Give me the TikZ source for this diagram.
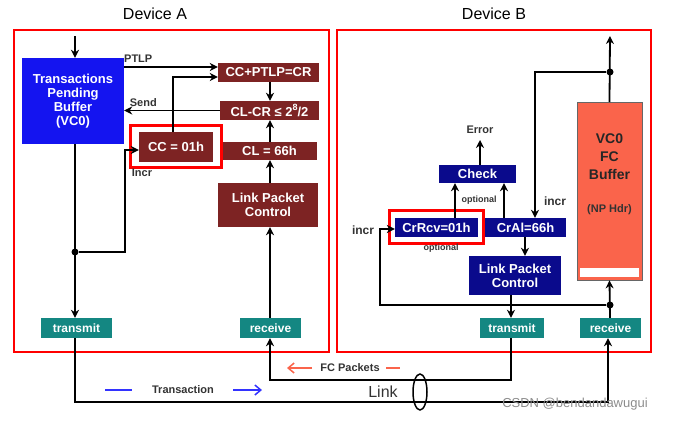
\documentclass[tikz,border=0pt]{standalone}
\usepackage{fontspec}
\setmainfont{Liberation Sans}
\usetikzlibrary{arrows.meta}
\definecolor{tpblue}{RGB}{20,20,240}
\definecolor{dred}{RGB}{125,35,35}
\definecolor{navy}{RGB}{10,10,140}
\definecolor{teal2}{RGB}{20,135,130}
\definecolor{fcor}{RGB}{250,100,75}
\begin{document}
\begin{tikzpicture}[x=1pt,y=-1pt,
  box/.style={draw=none, text=white, font=\bfseries\fontsize{13}{14}\selectfont, align=center, inner sep=0pt},
  lab/.style={font=\bfseries\fontsize{11}{12}\selectfont, text=black!80},
  ln/.style={line width=1.8pt},
  ar/.style={ln, -{Stealth[length=8pt,width=8pt]}},
  dot/.style={circle, fill=black, inner sep=0pt, minimum size=7pt},
  hl/.style={draw=red, line width=3pt, fill=none}]
\useasboundingbox (0,0) rectangle (683,423);
% titles and device frames
\node[font=\fontsize{16}{18}\selectfont] (ta) at (155,14) {Device A};
\node[font=\fontsize{16}{18}\selectfont] (tb) at (494,14) {Device B};
\draw[red, line width=2pt] (14,30) rectangle (329,352);
\draw[red, line width=2pt] (337,30) rectangle (651,352);

% Device A
\node[box, fill=tpblue, minimum width=102pt, minimum height=86pt] (tpb) at (73,101) {Transactions\\Pending\\Buffer\\(VC0)};
\node[box, fill=dred, minimum width=101pt, minimum height=19pt] (ccr) at (268.5,72.5) {CC+PTLP=CR};
\node[box, fill=dred, minimum width=99pt, minimum height=19pt] (clcr) at (269.5,110.5) {CL-CR ≤ 2\raisebox{0.8ex}{\fontsize{9}{9}\selectfont 8}/2};
\node[box, fill=dred, minimum width=74pt, minimum height=30pt] (cc) at (176,147) {CC = 01h};
\node[box, fill=dred, minimum width=95pt, minimum height=18pt] (cl) at (269.5,151) {CL = 66h};
\node[box, fill=dred, minimum width=100pt, minimum height=44pt] (lpa) at (268,205) {Link Packet\\Control};
\node[box, fill=teal2, minimum width=71pt, minimum height=20pt, font=\bfseries\fontsize{12}{13}\selectfont] (txa) at (76.5,328) {transmit};
\node[box, fill=teal2, minimum width=61pt, minimum height=20pt, font=\bfseries\fontsize{12}{13}\selectfont] (rxa) at (270.5,328) {receive};
\draw[hl] (130,125) rectangle (221,167);
\coordinate (ina) at (75,36);
\draw[ar] (ina) -- (tpb.north -| ina);
\draw[ar] (tpb.east |- 0,67) -- node[lab, above, pos=0.15] {PTLP} (ccr.west |- 0,67);
\draw[ar] (cc.north -| 173,0) -- (173,77) -- (ccr.west |- 0,77);
\draw[ar] (clcr.west) -- node[lab, above, pos=0.8] {Send} (tpb.east |- clcr.west);
\draw[ar] (ccr.south -| 270,0) -- (clcr.north -| 270,0);
\draw[ar] (cl.north -| 270,0) -- (clcr.south -| 270,0);
\draw[ar] (lpa.north -| 270,0) -- (cl.south -| 270,0);
\draw[ar] (rxa.north -| 270,0) -- (lpa.south -| 270,0);
\node[dot] (da) at (75,252) {};
\draw[ar] (tpb.south -| 75,0) -- (txa.north -| 75,0);
\draw[ar] (da) -- (125,252) -- (125,150) -- (cc.west |- 0,150);
\node[lab] (incra) at (142,173) {Incr};

% Device B
\node[box, fill=navy, minimum width=77pt, minimum height=18pt] (chk) at (477.5,174) {Check};
\node[box, fill=navy, minimum width=83pt, minimum height=19pt] (crr) at (436.5,227.5) {CrRcv=01h};
\node[box, fill=navy, minimum width=81pt, minimum height=19pt] (cra) at (525.5,227.5) {CrAl=66h};
\node[box, fill=navy, minimum width=92pt, minimum height=39pt] (lpb) at (515,275.5) {Link Packet\\Control};
\node[box, fill=fcor, draw=black!60, minimum width=65pt, minimum height=178pt, anchor=north] (buf) at (609.5,102) {};
\fill[white] (580,268) rectangle (639,277);
\node[text=black!85, font=\bfseries\fontsize{14}{18}\selectfont, align=center] (buft) at (609.5,157) {VC0\\FC\\Buffer};
\node[lab] (nph) at (609.5,210) {(NP Hdr)};
\node[box, fill=teal2, minimum width=64pt, minimum height=20pt, font=\bfseries\fontsize{12}{13}\selectfont] (txb) at (512,328) {transmit};
\node[box, fill=teal2, minimum width=61pt, minimum height=20pt, font=\bfseries\fontsize{12}{13}\selectfont] (rxb) at (610.5,328) {receive};
\draw[hl] (389,210) rectangle (483,243);
\node[lab] (err) at (480,130) {Error};
\draw[ar] (chk.north -| 480,0) -- (480,140);
\draw[ar] (crr.north -| 455,0) -- (chk.south -| 455,0);
\draw[ar] (cra.north -| 504,0) -- (chk.south -| 504,0);
\node[lab, font=\bfseries\fontsize{9}{10}\selectfont] (opt1) at (479,200) {optional};
\node[lab, font=\bfseries\fontsize{9}{10}\selectfont] (opt2) at (441,248) {optional};
\node[dot] (db1) at (610,72) {};
\coordinate (outb) at (610,36);
\draw[ar] (buf.north) -- (outb);
\draw[ar] (db1) -- (535,72) -- (cra.north -| 535,0);
\node[lab, font=\bfseries\fontsize{12}{13}\selectfont] (incrb) at (555,201) {incr};
\draw[ar] (cra.south -| 525,0) -- (lpb.north -| 525,0);
\draw[ar] (lpb.south -| 511,0) -- (txb.north -| 511,0);
\node[dot] (db2) at (610,305) {};
\draw[ar] (rxb.north -| 610,0) -- (buf.south);
\draw[ar] (db2) -- (380,305) -- (380,229) -- (crr.west |- 0,229);
\node[lab, font=\bfseries\fontsize{12}{13}\selectfont] (incrc) at (363,230) {incr};

% link
\draw[ar] (txa.south -| 75,0) -- (75,402) -- (608,402) -- (rxb.south -| 608,0);
\draw[ar] (txb.south -| 511,0) -- (511,380) -- (270,380) -- (rxa.south -| 270,0);
\draw[line width=1.5pt] (420,392) ellipse (7pt and 18pt);
\node[font=\fontsize{16}{18}\selectfont, text=black!80] (link) at (383,392) {Link};
\node[lab] (trn) at (183,390) {Transaction};
\draw[line width=1.5pt, blue!80] (105,390) -- (132,390);
\draw[line width=1.5pt, blue!80, -{Straight Barb[length=6pt,width=10pt]}] (233,390) -- (262,390);
\node[lab] (fcp) at (350,368) {FC Packets};
\draw[line width=1.5pt, fcor, -{Straight Barb[length=6pt,width=10pt]}] (312,368) -- (287,368);
\draw[line width=1.5pt, fcor] (386,368) -- (400,368);
\node[text=black!45, font=\fontsize{13}{14}\selectfont] (wm) at (575,404) {CSDN @bendandawugui};
\end{tikzpicture}
\end{document}
